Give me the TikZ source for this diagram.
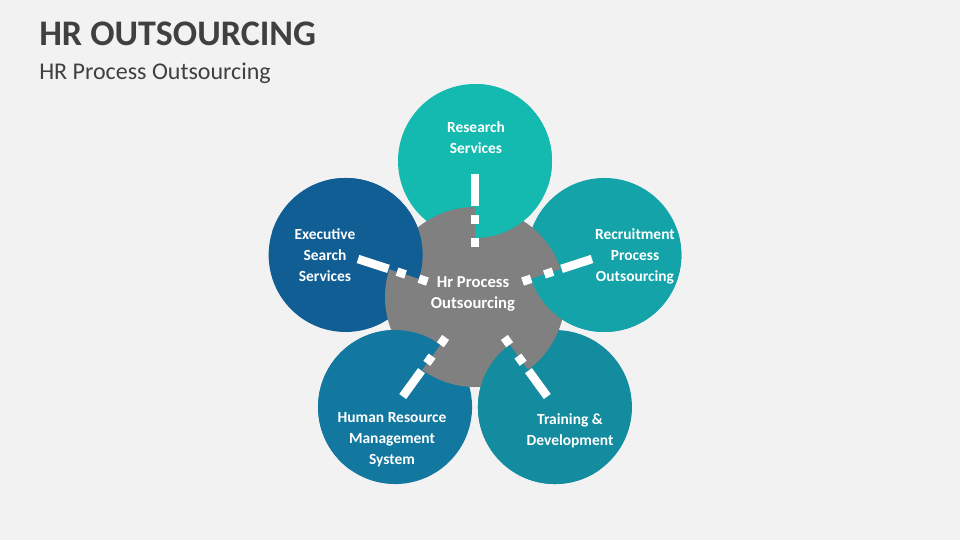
\documentclass[tikz,border=0pt]{standalone}
\usepackage{fontspec}
\setmainfont{Carlito}
\usetikzlibrary{calc}
\definecolor{bg}{HTML}{F2F2F2}
\definecolor{titlecol}{HTML}{404040}
\definecolor{hubcol}{HTML}{808080}
\definecolor{cResearch}{HTML}{14BAB0}
\definecolor{cRecruit}{HTML}{13A3A8}
\definecolor{cTraining}{HTML}{138CA0}
\definecolor{cHuman}{HTML}{1278A0}
\definecolor{cExec}{HTML}{105E94}
\tikzset{
  petaltext/.style={text=white, font=\bfseries\fontsize{11.6}{15.75}\selectfont, align=center, inner sep=0pt},
  hubtext/.style={text=white, font=\bfseries\fontsize{12.5}{15.75}\selectfont, align=center, inner sep=0pt},
  dashline/.style={draw=white, line width=6.4pt, line cap=butt,
    dash pattern=on 24pt off 6.75pt on 6.75pt off 10.5pt on 6.75pt off 100pt},
}
\begin{document}
\begin{tikzpicture}[x=0.75pt,y=-0.75pt]
\useasboundingbox[fill=bg] (0,0) rectangle (960,540);
\coordinate (C) at (475,297);
% petal centres (screen angles, y downwards)
\foreach \nm/\ang in {Research/270, Recruit/342, Training/54, Human/126, Exec/198}{
  \coordinate (P\nm) at ($(C)+(\ang:136)$);
}
% full petals
\foreach \nm in {Research, Recruit, Training, Human, Exec}{
  \fill[c\nm] (P\nm) circle[radius=77];
}
% hub
\fill[hubcol] (C) circle[radius=90];
% petal parts lying over the hub (clockwise side of each radius)
\foreach \nm/\ang in {Research/270, Recruit/342, Training/54, Human/126, Exec/198}{
  \pgfmathsetmacro{\angb}{\ang+180}
  \pgfmathsetmacro{\angc}{\ang+90}
  \begin{scope}
    \clip ($(C)+(\angb:300)$) -- ($(C)+(\ang:300)$)
          -- ($(C)+(\ang:300)+(\angc:300)$) -- ($(C)+(\angb:300)+(\angc:300)$) -- cycle;
    \fill[c\nm] (P\nm) circle[radius=77];
  \end{scope}
}
% connectors
\foreach \nm in {Research, Recruit, Training, Human, Exec}{
  \draw[dashline] ($(C)!0.9044!(P\nm)$) -- ($(C)!0.3676!(P\nm)$);
}
% texts
\node[anchor=west, text=titlecol, font=\bfseries\fontsize{27}{32}\selectfont, inner sep=0pt] (title) at (39,34) {HR OUTSOURCING};
\node[anchor=west, text=titlecol, font=\fontsize{18}{22}\selectfont, inner sep=0pt] (subtitle) at (39,73) {HR Process Outsourcing};
\node[hubtext] (thub) at (473,294) {Hr Process\\Outsourcing};
\node[petaltext] (tResearch) at (476,138) {Research\\Services};
\node[petaltext] (tExec) at (325,255) {Executive\\Search\\Services};
\node[petaltext] (tRecruit) at (635,256) {Recruitment\\Process\\Outsourcing};
\node[petaltext] (tHuman) at (392,440) {Human Resource\\Management\\System};
\node[petaltext] (tTraining) at (570,431) {Training \&\\Development};
\end{tikzpicture}
\end{document}
